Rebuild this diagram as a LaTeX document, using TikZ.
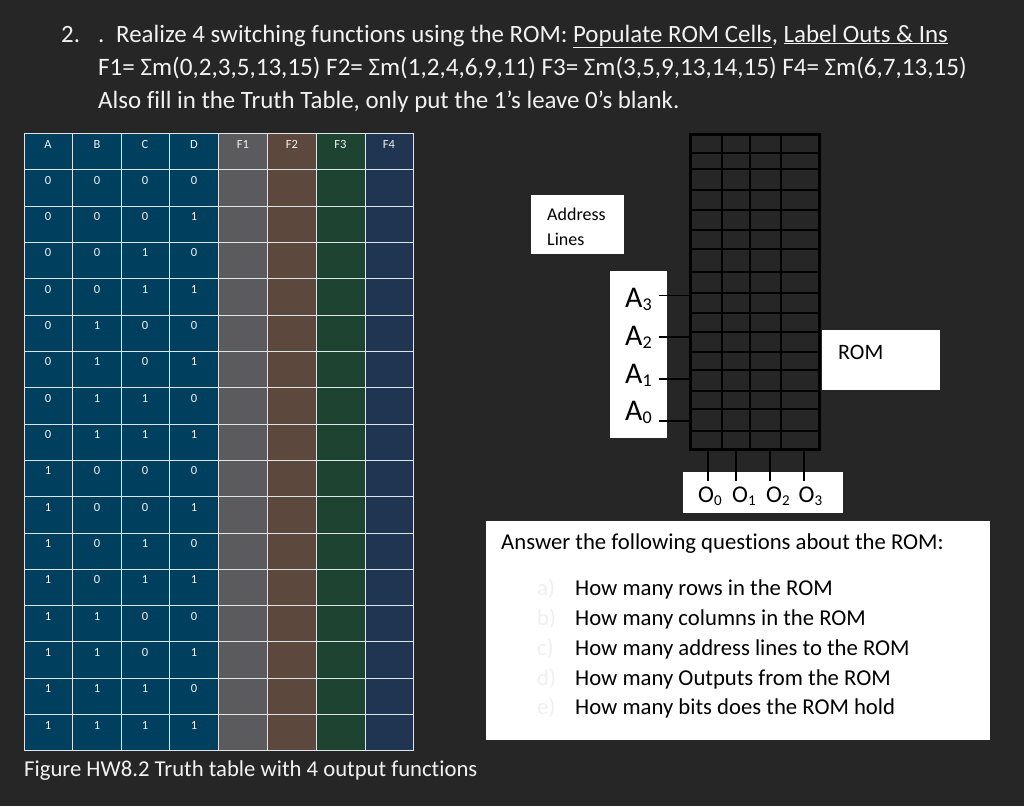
\documentclass[tikz,border=0pt]{standalone}
\usepackage{fontspec}
\setmainfont{Carlito}[Ligatures=CommonOff]
\definecolor{pagebg}{HTML}{262626}
\definecolor{inbg}{HTML}{003F5E}
\definecolor{foneb}{HTML}{5B5B5D}
\definecolor{ftwob}{HTML}{5C483C}
\definecolor{fthreeb}{HTML}{1F4331}
\definecolor{ffourb}{HTML}{1F3551}
\definecolor{gridc}{HTML}{DCE6EA}
\definecolor{pagetxt}{HTML}{F2F2F2}
\tikzset{
    pagetext/.style={anchor=base west,inner sep=0pt,text=pagetxt,font=\fontsize{24.9}{25}\selectfont},
    celltext/.style={anchor=base,inner sep=0pt,text=pagetxt,font=\fontsize{12.5}{12.5}\selectfont},
    whitebox/.style={anchor=north west,fill=white,draw=none,inner sep=0pt},
    blacktext/.style={anchor=base west,inner sep=0pt,text=black},
    romline/.style={line width=1.8pt,black},
    pinline/.style={line width=1.3pt,black}
}
\begin{document}
\begin{tikzpicture}[x=1pt,y=-1pt]
    \useasboundingbox (0,0) rectangle (1024,806);
    \fill[pagebg] (0,0) rectangle (1024,806);
    % heading
    \node[pagetext] (num) at (61,42) {2.};
    \node[pagetext] (dot) at (98,42) {.};
    \node[pagetext] (head) at (116,42) {Realize 4 switching functions using the ROM: \underline{Populate ROM Cells}, \underline{Label Outs \& Ins}};
    \node[pagetext,font=\fontsize{25.1}{25}\selectfont] (funcs) at (98,75) {F1= Σm(0,2,3,5,13,15) F2= Σm(1,2,4,6,9,11) F3= Σm(3,5,9,13,14,15) F4= Σm(6,7,13,15)};
    \node[pagetext] (fill) at (98,108) {Also fill in the Truth Table, only put the 1’s leave 0’s blank.};
    % truth table
    \fill[inbg] (24,133.5) rectangle (218.5,751);
    \fill[foneb] (218.5,133.5) rectangle (267.5,751);
    \fill[ftwob] (267.5,133.5) rectangle (316,751);
    \fill[fthreeb] (316,133.5) rectangle (365,751);
    \fill[ffourb] (365,133.5) rectangle (413.5,751);
    \foreach \x in {24,72.5,121,169.5,218.5,267.5,316,365,413.5}
        \draw[gridc,line width=1pt] (\x,133.5) -- (\x,751);
    \foreach \r in {0,...,17}
        \draw[gridc,line width=1pt] (24,133.5+36.32*\r) -- (413.5,133.5+36.32*\r);
    \foreach \n/\x in {A/48,B/97,C/145,D/194,F1/243,F2/292,F3/340.5,F4/389}
        \node[celltext] (head\n) at (\x,148) {\n};
    \foreach \i in {0,...,15} {
        \pgfmathsetmacro{\ybase}{148+36.32*(\i+1)}
        \pgfmathtruncatemacro{\bita}{Mod(floor(\i/8),2)}
        \pgfmathtruncatemacro{\bitb}{Mod(floor(\i/4),2)}
        \pgfmathtruncatemacro{\bitc}{Mod(floor(\i/2),2)}
        \pgfmathtruncatemacro{\bitd}{Mod(\i,2)}
        \node[celltext] (a\i) at (48,\ybase) {\bita};
        \node[celltext] (b\i) at (97,\ybase) {\bitb};
        \node[celltext] (c\i) at (145,\ybase) {\bitc};
        \node[celltext] (d\i) at (194,\ybase) {\bitd};
    }
    \node[pagetext,font=\fontsize{22.7}{22.7}\selectfont] (caption) at (24,776) {Figure HW8.2 Truth table with 4 output functions};
    % boxes behind the rom
    \node[whitebox,minimum width=93pt,minimum height=59pt] (addrbox) at (531,195) {};
    \node[blacktext,font=\fontsize{18}{18}\selectfont] (addrone) at (547,220) {Address};
    \node[blacktext,font=\fontsize{18}{18}\selectfont] (addrtwo) at (547,245) {Lines};
    \node[whitebox,minimum width=57pt,minimum height=167pt] (abox) at (610,271) {};
    \node[whitebox,minimum width=159.5pt,minimum height=41pt] (obox) at (683,472) {};
    \node[whitebox,minimum width=118pt,minimum height=60pt] (rombox) at (822,330) {};
    \node[blacktext,font=\fontsize{22}{22}\selectfont] (romlabel) at (838,359) {ROM};
    % rom cells
    \foreach \y in {152.7,169.3,190,210,230,249.3,272,293,313.3,331.7,352,370.3,390.7,409.3,430.7}
        \draw[romline] (689,\y) -- (819,\y);
    \foreach \x in {722.3,750,781}
        \draw[romline] (\x,133) -- (\x,449.5);
    \draw[black,line width=3pt] (690,134) rectangle (819,449.5);
    % address pins
    \foreach \k/\y/\ly in {3/295.5/307,2/337/345,1/379/383,0/421/420.5} {
        \node[blacktext,font=\fontsize{30}{30}\selectfont] (addr\k) at (625,\ly) {A{\fontsize{18}{18}\selectfont\raisebox{-3pt}{\k}}};
        \coordinate (pinin\k) at (659,\y);
        \coordinate (cellin\k) at (689,\y);
        \draw[pinline] (pinin\k) -- (cellin\k);
    }
    % output pins
    \foreach \k/\x/\lx in {0/708/698,1/736/732,2/770/766,3/804/798.5} {
        \node[blacktext,font=\fontsize{24}{24}\selectfont] (out\k) at (\lx,502) {O{\fontsize{15}{15}\selectfont\raisebox{-3pt}{\k}}};
        \coordinate (cellout\k) at (\x,450);
        \coordinate (pinout\k) at (\x,480.5);
        \draw[pinline] (cellout\k) -- (pinout\k);
    }
    % questions
    \node[whitebox,minimum width=504pt,minimum height=219pt] (qbox) at (486,521) {};
    \node[blacktext,font=\fontsize{22.7}{22.7}\selectfont] (qhead) at (501,549) {Answer the following questions about the ROM:};
    \foreach \n/\lett/\y/\q in {
        qa/a/595.5/How many rows in the ROM,
        qb/b/625/How many columns in the ROM,
        qc/c/655/How many address lines to the ROM,
        qd/d/685/How many Outputs from the ROM,
        qe/e/714/How many bits does the ROM hold} {
        \node[blacktext,text=black!6,font=\fontsize{22.7}{22.7}\selectfont] (\n let) at (537,\y) {\lett)};
        \node[blacktext,font=\fontsize{22.7}{22.7}\selectfont] (\n) at (575,\y) {\q};
    }
\end{tikzpicture}
\end{document}
